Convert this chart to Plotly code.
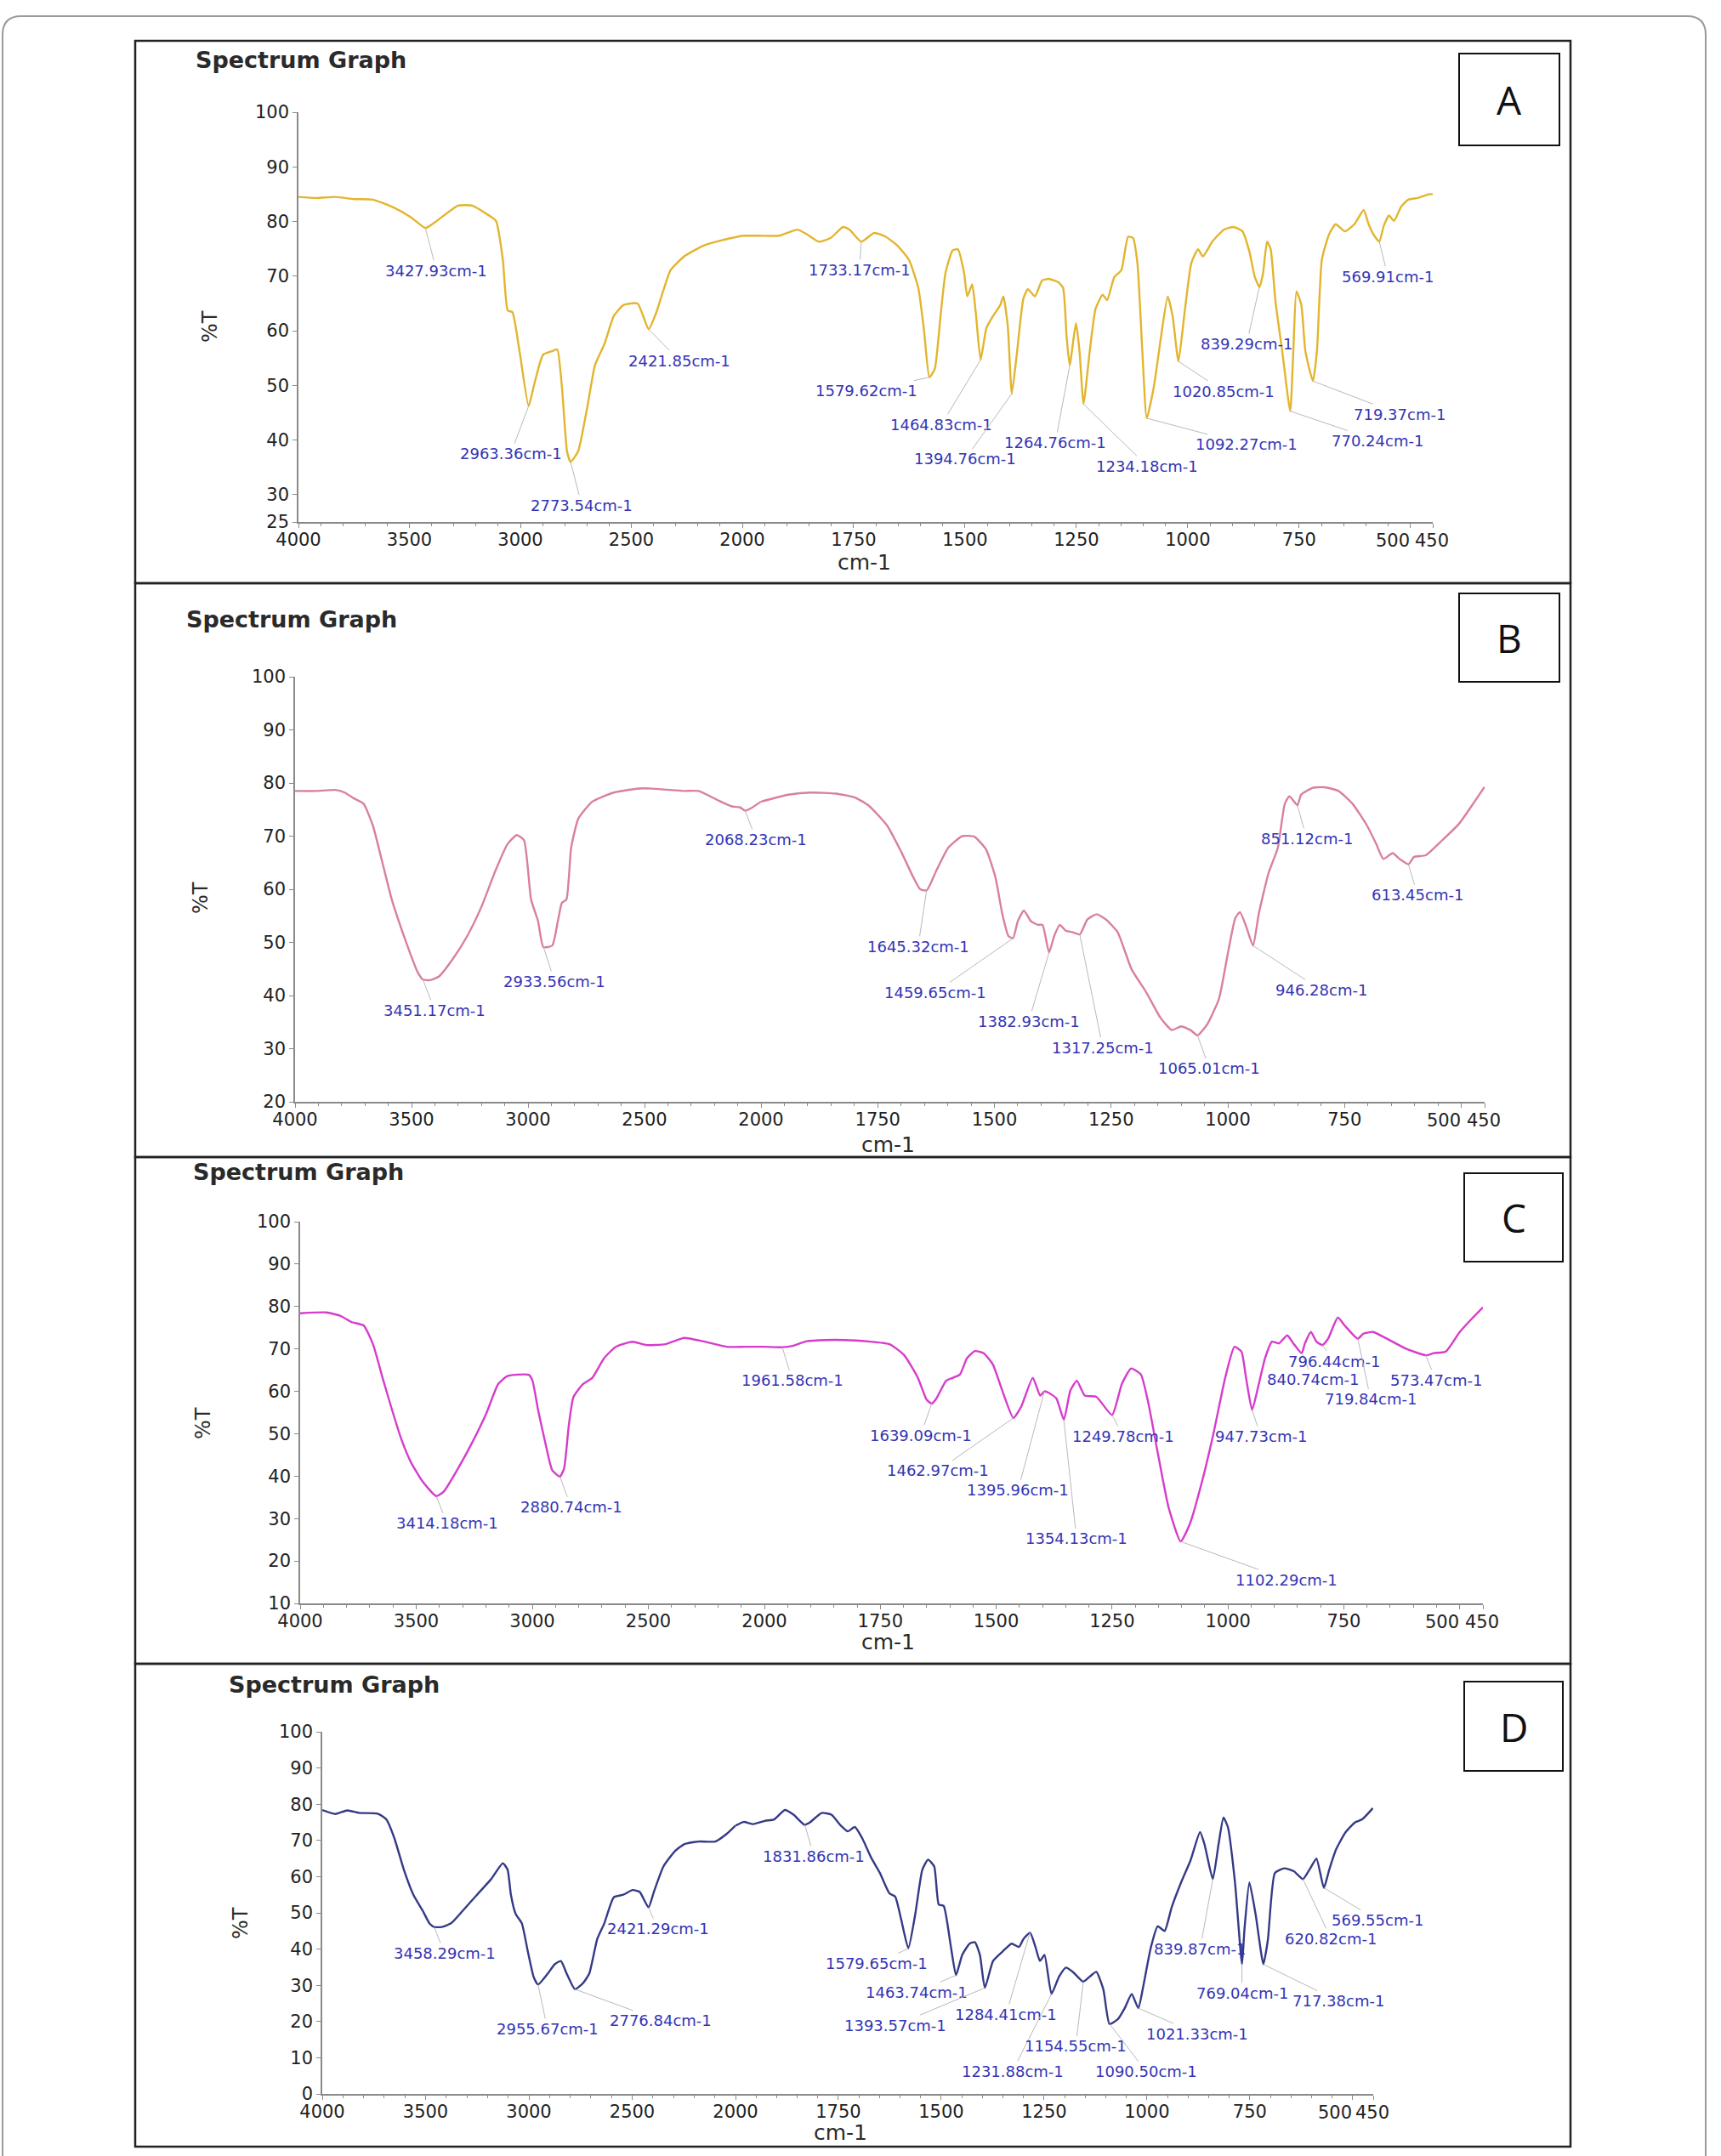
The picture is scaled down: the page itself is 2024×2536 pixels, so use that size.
import numpy as np
import plotly.graph_objects as go

# ---------------- DATA ----------------
wn_A = [4000, 3919, 3834, 3749, 3664, 3579, 3494, 3428, 3387, 3281, 3217, 3153, 3110, 3079, 3057, 3036, 3004,
        2963, 2940, 2898, 2855, 2834, 2813, 2790, 2774, 2740, 2696, 2664, 2621, 2579, 2536, 2472, 2422, 2387,
        2323, 2259, 2174, 2089, 2000, 1961, 1918, 1876, 1854, 1828, 1801, 1774, 1759, 1733, 1704, 1678, 1652,
        1626, 1605, 1592, 1580, 1568, 1555, 1544, 1528, 1516, 1502, 1495, 1484, 1476, 1465, 1452, 1437, 1421,
        1414, 1404, 1395, 1383, 1369, 1359, 1343, 1327, 1312, 1291, 1280, 1272, 1265, 1251, 1243, 1234, 1220,
        1207, 1191, 1181, 1165, 1149, 1134, 1123, 1113, 1102, 1092, 1076, 1060, 1045, 1034, 1021, 1008, 992,
        977, 966, 945, 919, 898, 877, 861, 850, 839, 831, 822, 814, 803, 788, 770, 763, 756, 745, 736, 719, 710,
        699, 683, 668, 647, 626, 605, 594, 582, 570, 560, 548, 537, 521, 505, 484, 458, 450]
t_A = [84.5, 84.3, 84.5, 84.1, 84.0, 82.7, 80.8, 78.8, 79.8, 82.9, 82.9, 81.4, 80.1, 73.0, 63.7, 63.4, 56.3,
       46.2, 49.8, 55.6, 56.3, 56.6, 49.8, 38.0, 36.0, 37.9, 46.6, 53.7, 57.6, 62.7, 64.7, 65.0, 60.3, 63.4,
       71.1, 73.7, 75.6, 76.6, 77.4, 77.4, 77.4, 78.5, 77.6, 76.3, 77.0, 79.0, 78.5, 76.3, 77.9, 77.2, 75.6,
       73.0, 67.9, 60.0, 51.5, 53.0, 62.7, 70.5, 74.7, 74.9, 70.5, 66.3, 68.5, 63.4, 54.7, 60.5, 62.7, 64.7,
       66.3, 60.8, 48.5, 56.3, 65.9, 67.6, 66.3, 69.2, 69.5, 68.9, 67.9, 58.9, 53.7, 61.4, 56.3, 46.6, 56.3,
       64.0, 66.6, 65.6, 69.8, 71.1, 77.2, 77.0, 72.4, 56.3, 44.0, 49.8, 58.9, 66.3, 62.7, 54.4, 62.7, 72.4,
       74.9, 73.6, 76.3, 78.5, 79.0, 78.2, 74.3, 70.0, 68.0, 70.5, 76.3, 75.0, 65.3, 56.3, 45.3, 56.3, 67.2,
       64.7, 56.3, 50.8, 56.3, 73.0, 77.6, 79.5, 78.2, 79.5, 82.1, 79.5, 77.5, 76.3, 79.2, 81.1, 80.1, 82.7,
       84.0, 84.3, 85.0, 85.0]
peak_wn_A = [3427.93, 2963.36, 2773.54, 2421.85, 1733.17, 1579.62, 1464.83, 1394.76, 1264.76, 1234.18,
             1092.27, 1020.85, 839.29, 770.24, 719.37, 569.91]
peak_t_A = [78.8, 46.2, 36.0, 60.3, 76.3, 51.5, 54.7, 48.5, 53.7, 46.6, 44.0, 54.4, 68.0, 45.3, 50.8, 76.3]

wn_B = [4000, 3909, 3828, 3787, 3747, 3706, 3666, 3625, 3585, 3544, 3504, 3475, 3451, 3420, 3382, 3321, 3261,
        3200, 3139, 3088, 3048, 3017, 2987, 2957, 2934, 2896, 2872, 2855, 2835, 2815, 2784, 2724, 2632, 2511,
        2389, 2329, 2268, 2187, 2126, 2090, 2068, 2045, 2000, 1941, 1891, 1840, 1800, 1770, 1730, 1700, 1674,
        1659, 1645, 1624, 1599, 1569, 1543, 1518, 1498, 1483, 1470, 1460, 1450, 1437, 1422, 1407, 1397, 1383,
        1372, 1360, 1347, 1332, 1317, 1301, 1281, 1261, 1236, 1206, 1176, 1145, 1120, 1100, 1080, 1065, 1044,
        1019, 999, 984, 974, 962, 946, 934, 913, 893, 878, 868, 851, 843, 818, 793, 763, 733, 702, 682, 667,
        647, 632, 613, 601, 576, 541, 505, 480, 450]
t_B = [78.5, 78.5, 78.7, 78.2, 77.1, 76.1, 72.0, 65.0, 58.1, 52.6, 47.7, 44.5, 43.0, 42.9, 43.6, 47.0, 51.2,
       56.7, 63.6, 68.5, 70.2, 69.2, 58.1, 54.0, 49.1, 49.4, 54.0, 57.4, 58.1, 67.8, 73.3, 76.5, 78.2, 79.0,
       78.7, 78.5, 78.5, 76.8, 75.6, 75.4, 74.8, 75.2, 76.5, 77.8, 78.2, 78.0, 77.3, 75.8, 72.0, 67.1, 62.3,
       60.0, 59.8, 63.6, 67.8, 70.0, 69.9, 67.5, 62.3, 55.3, 51.2, 50.8, 54.0, 56.0, 54.0, 53.3, 53.3, 48.1,
       51.2, 53.3, 52.2, 51.9, 51.5, 54.3, 55.3, 54.3, 51.9, 44.9, 40.8, 35.9, 33.5, 34.2, 33.5, 32.5, 34.6,
       39.4, 48.4, 54.6, 55.7, 53.3, 49.4, 55.3, 63.0, 67.8, 76.1, 77.5, 75.8, 77.8, 79.1, 79.2, 78.5, 76.1,
       72.0, 68.5, 65.7, 66.8, 65.7, 64.7, 66.1, 66.4, 69.2, 72.3, 75.4, 79.3]
peak_wn_B = [3451.17, 2933.56, 2068.23, 1645.32, 1459.65, 1382.93, 1317.25, 1065.01, 946.28, 851.12, 613.45]
peak_t_B = [43.0, 49.1, 74.8, 59.8, 50.8, 48.1, 51.5, 32.5, 49.4, 75.8, 64.7]

wn_C = [4000, 3888, 3827, 3777, 3726, 3685, 3645, 3604, 3564, 3523, 3472, 3414, 3381, 3320, 3259, 3198, 3147,
        3107, 3015, 2999, 2975, 2944, 2914, 2881, 2863, 2843, 2823, 2782, 2741, 2691, 2640, 2569, 2508, 2427,
        2346, 2264, 2163, 2082, 2000, 1962, 1939, 1909, 1868, 1828, 1779, 1730, 1699, 1669, 1650, 1639, 1629,
        1608, 1593, 1578, 1563, 1546, 1527, 1507, 1487, 1463, 1446, 1421, 1405, 1396, 1386, 1370, 1354, 1340,
        1326, 1309, 1284, 1250, 1229, 1209, 1188, 1173, 1153, 1128, 1102, 1082, 1056, 1031, 1006, 986, 971,
        961, 948, 935, 920, 905, 890, 872, 859, 841, 834, 821, 809, 796, 784, 763, 748, 720, 708, 687, 657,
        617, 573, 556, 530, 500, 475, 450]
t_C = [78.4, 78.6, 77.8, 76.3, 75.5, 70.9, 63.2, 55.6, 48.7, 43.3, 38.7, 35.3, 36.4, 41.8, 47.9, 54.8, 61.7,
       63.6, 63.9, 62.5, 55.6, 47.9, 41.4, 39.9, 41.8, 51.8, 58.6, 61.7, 63.2, 67.8, 70.5, 71.7, 70.9, 71.1,
       72.6, 71.8, 70.5, 70.5, 70.5, 70.4, 70.7, 71.8, 72.1, 72.1, 71.8, 71.1, 68.6, 63.2, 58.0, 57.1, 58.3,
       62.5, 63.2, 64.0, 67.8, 69.5, 69.0, 66.3, 60.2, 53.7, 56.4, 63.2, 59.0, 60.0, 59.6, 58.3, 53.3, 60.2,
       62.5, 59.0, 58.7, 54.4, 61.7, 65.4, 64.0, 57.9, 46.4, 32.6, 24.6, 28.8, 38.7, 50.2, 63.2, 70.5, 69.4,
       63.2, 55.6, 61.0, 67.8, 71.7, 71.3, 73.2, 71.3, 69.0, 71.3, 74.0, 71.7, 70.9, 72.4, 77.4, 75.5, 72.4,
       73.6, 74.0, 72.4, 70.1, 68.5, 69.0, 69.4, 74.0, 77.0, 79.8]
peak_wn_C = [3414.18, 2880.74, 1961.58, 1639.09, 1462.97, 1395.96, 1354.13, 1249.78, 1102.29, 947.73,
             840.74, 796.44, 719.84, 573.47]
peak_t_C = [35.3, 39.9, 70.4, 57.1, 53.7, 60.0, 53.3, 54.4, 24.6, 55.6, 69.0, 70.9, 72.4, 68.5]

wn_D = [4000, 3936, 3879, 3822, 3731, 3690, 3651, 3605, 3559, 3514, 3480, 3458, 3422, 3377, 3320, 3251, 3183,
        3126, 3103, 3087, 3064, 3034, 3005, 2977, 2956, 2909, 2875, 2845, 2817, 2777, 2738, 2708, 2669, 2635,
        2589, 2543, 2498, 2464, 2421, 2395, 2349, 2292, 2247, 2178, 2098, 2041, 2000, 1980, 1957, 1929, 1906,
        1880, 1859, 1832, 1819, 1790, 1767, 1744, 1727, 1710, 1692, 1671, 1649, 1626, 1612, 1597, 1580, 1563,
        1546, 1532, 1517, 1506, 1494, 1477, 1464, 1449, 1431, 1418, 1406, 1394, 1374, 1351, 1329, 1311, 1300,
        1284, 1271, 1260, 1249, 1232, 1214, 1197, 1180, 1155, 1140, 1123, 1106, 1091, 1071, 1054, 1037, 1021,
        1009, 991, 974, 957, 940, 917, 894, 871, 860, 840, 826, 814, 803, 786, 769, 763, 751, 736, 717, 706,
        689, 666, 643, 621, 603, 588, 570, 557, 540, 517, 494, 477, 451]
t_D = [78.4, 77.3, 78.3, 77.6, 77.4, 75.8, 70.6, 61.9, 55.0, 50.6, 47.0, 46.1, 46.1, 47.1, 50.6, 55.0, 59.3,
       63.7, 61.9, 55.0, 49.7, 47.1, 39.3, 32.3, 30.2, 33.2, 35.8, 36.7, 33.2, 28.9, 30.6, 33.2, 42.8, 47.1,
       54.3, 55.0, 56.3, 55.8, 51.5, 55.8, 62.8, 67.1, 69.0, 69.7, 69.7, 71.9, 74.1, 75.1, 74.5, 75.4, 75.8,
       78.4, 77.1, 74.3, 75.0, 77.6, 77.1, 74.1, 72.5, 73.7, 70.6, 65.4, 61.0, 55.4, 54.5, 48.0, 40.2, 49.7,
       61.9, 64.7, 62.8, 52.3, 51.9, 41.0, 32.8, 38.4, 41.5, 41.9, 38.4, 29.3, 36.7, 39.3, 41.5, 40.6, 42.8,
       44.5, 40.6, 36.7, 38.4, 27.6, 32.3, 34.9, 33.7, 31.0, 32.3, 33.7, 28.9, 19.3, 20.6, 23.7, 27.6, 23.7,
       29.7, 40.2, 46.3, 45.0, 51.5, 58.4, 64.5, 72.3, 68.9, 59.3, 68.9, 76.3, 73.6, 58.4, 35.8, 45.4, 58.4,
       49.7, 35.8, 42.6, 61.0, 62.3, 61.5, 59.3, 62.3, 65.0, 56.9, 61.9, 67.6, 72.3, 75.0, 75.8, 78.9]
peak_wn_D = [3458.29, 2955.67, 2776.84, 2421.29, 1831.86, 1579.65, 1463.74, 1393.57, 1284.41, 1231.88,
             1154.55, 1090.50, 1021.33, 839.87, 769.04, 717.38, 620.82, 569.55]
peak_t_D = [46.1, 30.2, 28.9, 51.5, 74.3, 40.2, 32.8, 29.3, 44.5, 27.6, 31.0, 19.3, 23.7, 59.3, 35.8, 35.8,
            59.3, 56.9]

x_ticks_high = [4000, 3500, 3000, 2500, 2000]
x_ticks_low = [1750, 1500, 1250, 1000, 750, 500, 450]
crowded_ticks = [500, 450]   # these two labels are set tight against each other, as in the reference
panel_letters = ["A", "B", "C", "D"]

# ---------------- LABEL OFFSETS (pixels) ----------------
offsets_A = [(13, 50), (-21, 56), (13, 51), (36, 37), (-2, 33), (-74, 16), (-46, 76), (-55, 77), (-17, 91),
             (75, 73), (117, 31), (53, 35), (-15, 67), (103, 35), (102, 39), (10, 41)]
offsets_B = [(14, 36), (13, 40), (13, 34), (-10, 66), (-92, 64), (-24, 81), (27, 133), (14, 39), (80, 52),
             (11, 39), (11, 36)]
offsets_C = [(13, 32), (13, 36), (12, 39), (-13, 37), (-89, 62), (-31, 116), (15, 140), (13, 25), (125, 45),
             (10, 31), (13, 31), (14, 19), (15, 71), (12, 29)]
offsets_D = [(12, 31), (11, 52), (101, 37), (11, 25), (11, 37), (-37, 18), (-46, 20), (-105, 44), (-28, 96),
             (-46, 91), (-9, 76), (43, 56), (69, 30), (-15, 82), (0, 34), (88, 43), (33, 70), (63, 38)]

# ---------------- LAYOUT GEOMETRY (pixels) ----------------
W, H = 2024, 2536


def fx(x):
    return x / W


def fy(y):
    return 1 - y / H


panels = [
    dict(wn=wn_A, t=t_A, pw=peak_wn_A, pt=peak_t_A, off=offsets_A, color="#E2B52E",
         x0=351, xb=873, x1=1685, ytop=132, ybot=614, ymin=25,
         yticks=[25, 30, 40, 50, 60, 70, 80, 90, 100],
         title=(228, 70), ylab=(247, 384), xlab=(1016, 662), box=(1716, 63, 1834, 171)),
    dict(wn=wn_B, t=t_B, pw=peak_wn_B, pt=peak_t_B, off=offsets_B, color="#D97FA0",
         x0=347, xb=895, x1=1746, ytop=796, ybot=1296, ymin=20,
         yticks=[20, 30, 40, 50, 60, 70, 80, 90, 100],
         title=(217, 728), ylab=(236, 1056), xlab=(1044, 1346), box=(1716, 698, 1834, 802)),
    dict(wn=wn_C, t=t_C, pw=peak_wn_C, pt=peak_t_C, off=offsets_C, color="#D63CCB",
         x0=353, xb=899, x1=1744, ytop=1437, ybot=1886, ymin=10,
         yticks=[10, 20, 30, 40, 50, 60, 70, 80, 90, 100],
         title=(225, 1379), ylab=(239, 1674), xlab=(1044, 1931), box=(1722, 1380, 1838, 1484)),
    dict(wn=wn_D, t=t_D, pw=peak_wn_D, pt=peak_t_D, off=offsets_D, color="#343A86",
         x0=379, xb=865, x1=1615, ytop=2037, ybot=2463, ymin=0,
         yticks=[0, 10, 20, 30, 40, 50, 60, 70, 80, 90, 100],
         title=(267, 1981), ylab=(283, 2262), xlab=(988, 2508), box=(1722, 1978, 1838, 2083)),
]

TICKFONT = dict(family="DejaVu Sans", size=21, color="#222222")
AXCOL = "#8a8a8a"

fig = go.Figure()
layout = {}
annotations = []
shapes = []

for i, p in enumerate(panels):
    xa1, xa2, ya = 2 * i + 1, 2 * i + 2, i + 1
    xn1 = "x" if xa1 == 1 else f"x{xa1}"
    xn2 = f"x{xa2}"
    yn = "y" if ya == 1 else f"y{ya}"
    wn = np.array(p["wn"], dtype=float)
    t = np.array(p["t"], dtype=float)
    hi = wn >= 2000
    lo = wn <= 2000
    line = dict(color=p["color"], width=2.4, shape="spline", smoothing=0.5)
    fig.add_trace(go.Scatter(x=wn[hi], y=t[hi], mode="lines", xaxis=xn1, yaxis=yn,
                             line=line, showlegend=False))
    fig.add_trace(go.Scatter(x=wn[lo], y=t[lo], mode="lines", xaxis=xn2, yaxis=yn,
                             line=line, showlegend=False))

    common_x = dict(showline=True, linecolor=AXCOL, linewidth=1.5, ticks="outside", ticklen=5,
                    tickcolor=AXCOL, showgrid=False, zeroline=False, tickfont=TICKFONT,
                    anchor=yn, tickmode="array", tickangle=0, ticklabelstandoff=-4)
    low_text = ["" if v in crowded_ticks else str(v) for v in x_ticks_low]
    layout[f"xaxis{xa1}"] = dict(common_x, domain=[fx(p["x0"]), fx(p["xb"])], range=[4000, 2000],
                                 tickvals=x_ticks_high, ticktext=[str(v) for v in x_ticks_high],
                                 minor=dict(ticks="outside", ticklen=3, tickcolor=AXCOL, dtick=100, tick0=0))
    layout[f"xaxis{xa2}"] = dict(common_x, domain=[fx(p["xb"]), fx(p["x1"])], range=[2000, 450],
                                 tickvals=x_ticks_low, ticktext=low_text,
                                 minor=dict(ticks="outside", ticklen=3, tickcolor=AXCOL, dtick=50, tick0=0))
    layout[f"yaxis{ya}"] = dict(domain=[fy(p["ybot"]), fy(p["ytop"])], range=[p["ymin"], 100],
                                anchor=xn1, showline=True, linecolor=AXCOL, linewidth=1.5,
                                ticks="outside", ticklen=5, tickcolor=AXCOL, showgrid=False,
                                zeroline=False, tickfont=TICKFONT, tickmode="array",
                                tickvals=p["yticks"], ticktext=[str(v) for v in p["yticks"]])

    # the two crowded tick labels at the low end of the axis, set side by side
    annotations.append(dict(x=crowded_ticks[0], y=p["ymin"], xref=xn2, yref=yn, text=str(crowded_ticks[0]),
                            showarrow=False, xanchor="right", yanchor="middle", xshift=0, yshift=-22,
                            borderpad=0, font=TICKFONT))
    annotations.append(dict(x=crowded_ticks[1], y=p["ymin"], xref=xn2, yref=yn, text=str(crowded_ticks[1]),
                            showarrow=False, xanchor="center", yanchor="middle", xshift=-1, yshift=-22,
                            borderpad=0, font=TICKFONT))

    # peak labels
    for w, tv, (dx, dy) in zip(p["pw"], p["pt"], p["off"]):
        annotations.append(dict(
            x=w, y=tv, xref=xn1 if w >= 2000 else xn2, yref=yn,
            text=f"{w:.2f}cm-1", showarrow=True, arrowhead=0, arrowwidth=1, arrowcolor="#b9b9b9",
            ax=dx, ay=dy, standoff=0, startstandoff=0,
            font=dict(family="DejaVu Sans", size=18, color="#3434b4")))

    # titles
    tx, ty = p["title"]
    annotations.append(dict(x=fx(tx), y=fy(ty), xref="paper", yref="paper", text="<b>Spectrum Graph</b>",
                            showarrow=False, xanchor="left", yanchor="middle",
                            font=dict(family="DejaVu Sans", size=27, color="#2a2a2a")))
    lx, ly = p["ylab"]
    annotations.append(dict(x=fx(lx), y=fy(ly), xref="paper", yref="paper", text="%T", textangle=-90,
                            showarrow=False, xanchor="center", yanchor="middle",
                            font=dict(family="DejaVu Sans", size=24, color="#2a2a2a")))
    cx, cy = p["xlab"]
    annotations.append(dict(x=fx(cx), y=fy(cy), xref="paper", yref="paper", text="cm-1",
                            showarrow=False, xanchor="center", yanchor="middle",
                            font=dict(family="DejaVu Sans", size=25, color="#2a2a2a")))
    bx0, by0, bx1, by1 = p["box"]
    shapes.append(dict(type="rect", xref="paper", yref="paper", x0=fx(bx0), x1=fx(bx1), y0=fy(by1),
                       y1=fy(by0), line=dict(color="#111", width=2), fillcolor="white"))
    annotations.append(dict(x=fx((bx0 + bx1) / 2), y=fy((by0 + by1) / 2), xref="paper", yref="paper",
                            text=panel_letters[i], showarrow=False, xanchor="center", yanchor="middle",
                            font=dict(family="Open Sans", size=46, color="#111")))

# panel frames
frame_y = [48, 686, 1361, 1957, 2525]
for k in range(4):
    shapes.append(dict(type="rect", xref="paper", yref="paper", x0=fx(159), x1=fx(1847),
                       y0=fy(frame_y[k + 1]), y1=fy(frame_y[k]), line=dict(color="#222", width=2.5),
                       layer="below"))

# outer rounded border
r = 22
xl, xr, yt = 3, 2006, 19
path = (f"M {fx(xl)},{fy(H)} L {fx(xl)},{fy(yt + r)} Q {fx(xl)},{fy(yt)} {fx(xl + r)},{fy(yt)} "
        f"L {fx(xr - r)},{fy(yt)} Q {fx(xr)},{fy(yt)} {fx(xr)},{fy(yt + r)} L {fx(xr)},{fy(H)}")
shapes.append(dict(type="path", xref="paper", yref="paper", path=path, line=dict(color="#9a9a9a", width=2)))

fig.update_layout(width=W, height=H, autosize=False,
                  margin=dict(l=0, r=0, t=0, b=0, pad=0, autoexpand=False),
                  paper_bgcolor="white", plot_bgcolor="rgba(0,0,0,0)",
                  annotations=annotations, shapes=shapes, showlegend=False, **layout)

fig.write_html("out.html")
